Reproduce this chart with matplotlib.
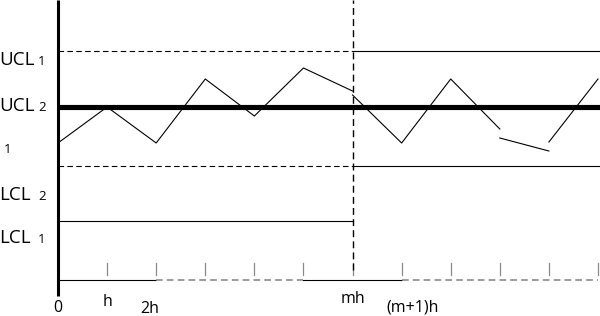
import matplotlib
matplotlib.use("Agg")
import matplotlib.pyplot as plt

plt.rcParams["font.family"] = ["Open Sans", "DejaVu Sans"]

# sample times in units of h, control limits and statistic values
ucl1 = 229
center = 173
lcl2 = 114
lcl1 = 59
m = 6
n_ticks = 11

seg1_t = [0, 1, 2, 3, 4, 5, 6]
seg1_y = [137, 173, 137, 201, 164, 212, 189]
seg2_t = [6, 7, 8, 9]
seg2_y = [185, 137, 201, 151]
seg3_t = [9, 10]
seg3_y = [142, 129]
seg4_t = [10, 11]
seg4_y = [138, 201]

left_labels = [("UCL", "1", 215), ("UCL", "2", 169), ("", "1", 127),
               ("LCL", "2", 80), ("LCL", "1", 37)]
tick_labels = [("0", 0, -32), ("h", 1, -26), ("2h", 1.87, -33),
               ("mh", 6, -23), ("(m+1)h", 7.23, -32)]

H = 49.09
x0 = 58
fig = plt.figure(figsize=(6, 3.16), dpi=100)
ax = fig.add_axes([0, 0, 1, 1])
ax.set_xlim(-x0 / H, (600 - x0) / H)
ax.set_ylim(-36, 280)
ax.axis("off")
xend = (600 - x0) / H

gray = "#8a8a8a"
dash = (0, (5, 3))

# left axis
ax.plot([0, 0], [-16, 280], color="black", lw=2.2, solid_capstyle="butt")

# time axis
ax.plot([0, 2], [0, 0], color="black", lw=0.8)
ax.plot([2, 5], [0, 0], color=gray, lw=1.2, linestyle=(0, (4, 2.5)))
ax.plot([5, 7], [0, 0], color="black", lw=0.8)
ax.plot([7, n_ticks], [0, 0], color=gray, lw=1.2, linestyle=(0, (4, 2.5)))
for t in range(1, n_ticks + 1):
    ax.plot([t, t], [5, 17], color=gray, lw=0.9)

# control limits
ax.plot([0, m], [ucl1, ucl1], color="black", lw=0.8, linestyle=dash)
ax.plot([m, xend], [ucl1, ucl1], color="black", lw=0.8)
ax.plot([0, xend], [center, center], color="black", lw=3.7, solid_capstyle="butt")
ax.plot([0, m], [lcl2, lcl2], color="black", lw=0.8, linestyle=dash)
ax.plot([m, xend], [lcl2, lcl2], color="black", lw=0.8)
ax.plot([0, m], [lcl1, lcl1], color="black", lw=0.8)

# change point
ax.plot([m, m], [10, 280], color="black", lw=1.0, linestyle=(0, (5, 3)))

# statistic
for tt, yy in [(seg1_t, seg1_y), (seg2_t, seg2_y), (seg3_t, seg3_y), (seg4_t, seg4_y)]:
    ax.plot(tt, yy, color="black", lw=0.8)

tr = ax.get_yaxis_transform()
for name, sub, y in left_labels:
    if name:
        ax.text(-1 / 600, y, name, transform=tr, fontsize=13.5, va="baseline", ha="left")
        ax.text(38 / 600, y, sub, transform=tr, fontsize=9.5, va="baseline", ha="left")
    else:
        ax.text(4 / 600, y, sub, transform=tr, fontsize=9.5, va="baseline", ha="left")

for txt, t, y in tick_labels:
    ax.text(t, y, txt, fontsize=11.5, va="baseline", ha="center")

fig.savefig("out.png", dpi=100)
